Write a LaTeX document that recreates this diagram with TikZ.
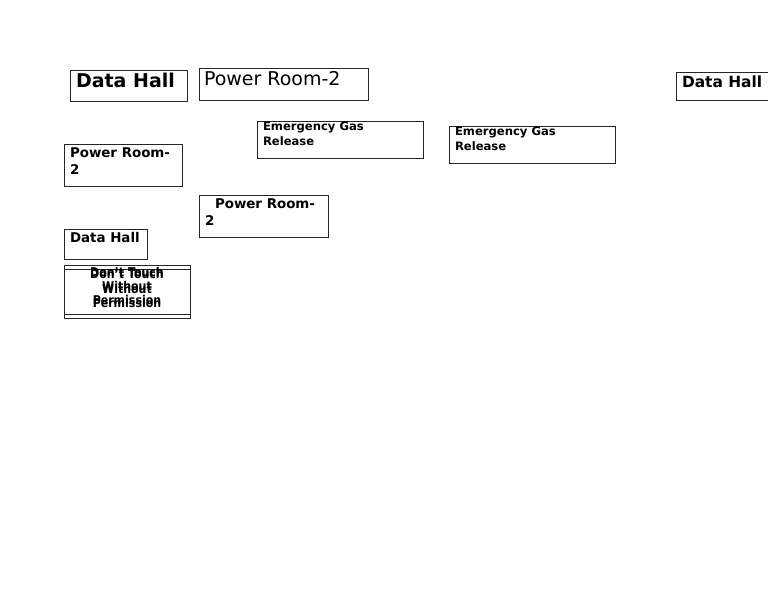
\documentclass[tikz,border=0pt]{standalone}
\usepackage{fontspec}
\setmainfont{DejaVu Sans}
\usetikzlibrary{positioning}
\tikzset{
  room/.style={draw=black!85, line width=0.9pt, anchor=north west, inner sep=0pt, outer sep=0pt},
  roomtxt/.style={anchor=north west, inner sep=0pt, outer sep=0pt, align=left, font=\bfseries},
  signtxt/.style={inner sep=0pt, align=center, font=\bfseries\fontsize{11}{13}\selectfont, yscale=1.1}
}
\begin{document}
\begin{tikzpicture}[x=1pt, y=-1pt]
  \useasboundingbox (0,0) rectangle (768,594);

  \node[room, minimum width=117pt, minimum height=31pt] (a) at (70,70) {};
  \node[roomtxt, font=\bfseries\fontsize{19}{22}\selectfont, below right=3pt and 6pt of a.north west] (at) {Data Hall};

  \node[room, minimum width=169pt, minimum height=32pt] (b) at (199,68) {};
  \node[roomtxt, font=\fontsize{19}{23}\selectfont, below right=3pt and 5pt of b.north west] (bt) {Power Room-2};

  \node[room, minimum width=166pt, minimum height=37pt] (c) at (257,121) {};
  \node[roomtxt, font=\bfseries\fontsize{11.6}{14.5}\selectfont, below right=1pt and 6pt of c.north west] (ct) {Emergency Gas\\Release};

  \node[room, minimum width=166pt, minimum height=37pt] (d) at (449,126) {};
  \node[roomtxt, font=\bfseries\fontsize{11.6}{14.5}\selectfont, below right=1pt and 6pt of d.north west] (dt) {Emergency Gas\\Release};

  \node[room, minimum width=130pt, minimum height=28pt] (e) at (676,72) {};
  \node[roomtxt, font=\bfseries\fontsize{15.4}{18}\selectfont, below right=3.5pt and 6pt of e.north west] (et) {Data Hall};

  \node[room, minimum width=118pt, minimum height=42pt] (f) at (64,144) {};
  \node[roomtxt, font=\bfseries\fontsize{13.4}{17}\selectfont, below right=4pt and 6pt of f.north west] (ft) {Power Room-\\2};

  \node[room, minimum width=129pt, minimum height=42pt] (g) at (199,195) {};
  \node[roomtxt, font=\bfseries\fontsize{13.4}{17}\selectfont, below right=4pt and 6pt of g.north west] (gt) {\hspace*{10pt}Power Room-\\2};

  \node[room, minimum width=83pt, minimum height=30pt] (h) at (64,229) {};
  \node[roomtxt, font=\bfseries\fontsize{13.4}{17}\selectfont, below right=3pt and 6pt of h.north west] (ht) {Data Hall};

  \node[room, minimum width=126pt, minimum height=49pt] (i) at (64,265) {};
  \node[room, minimum width=126pt, minimum height=49pt] (j) at (64,269) {};
  \node[signtxt] (it) at ([yshift=3.5pt]i.center) {Don't Touch\\Without\\Permission};
  \node[signtxt] (jt) at ([yshift=5pt]j.center) {Don't Touch\\Without\\Permission};
\end{tikzpicture}
\end{document}
